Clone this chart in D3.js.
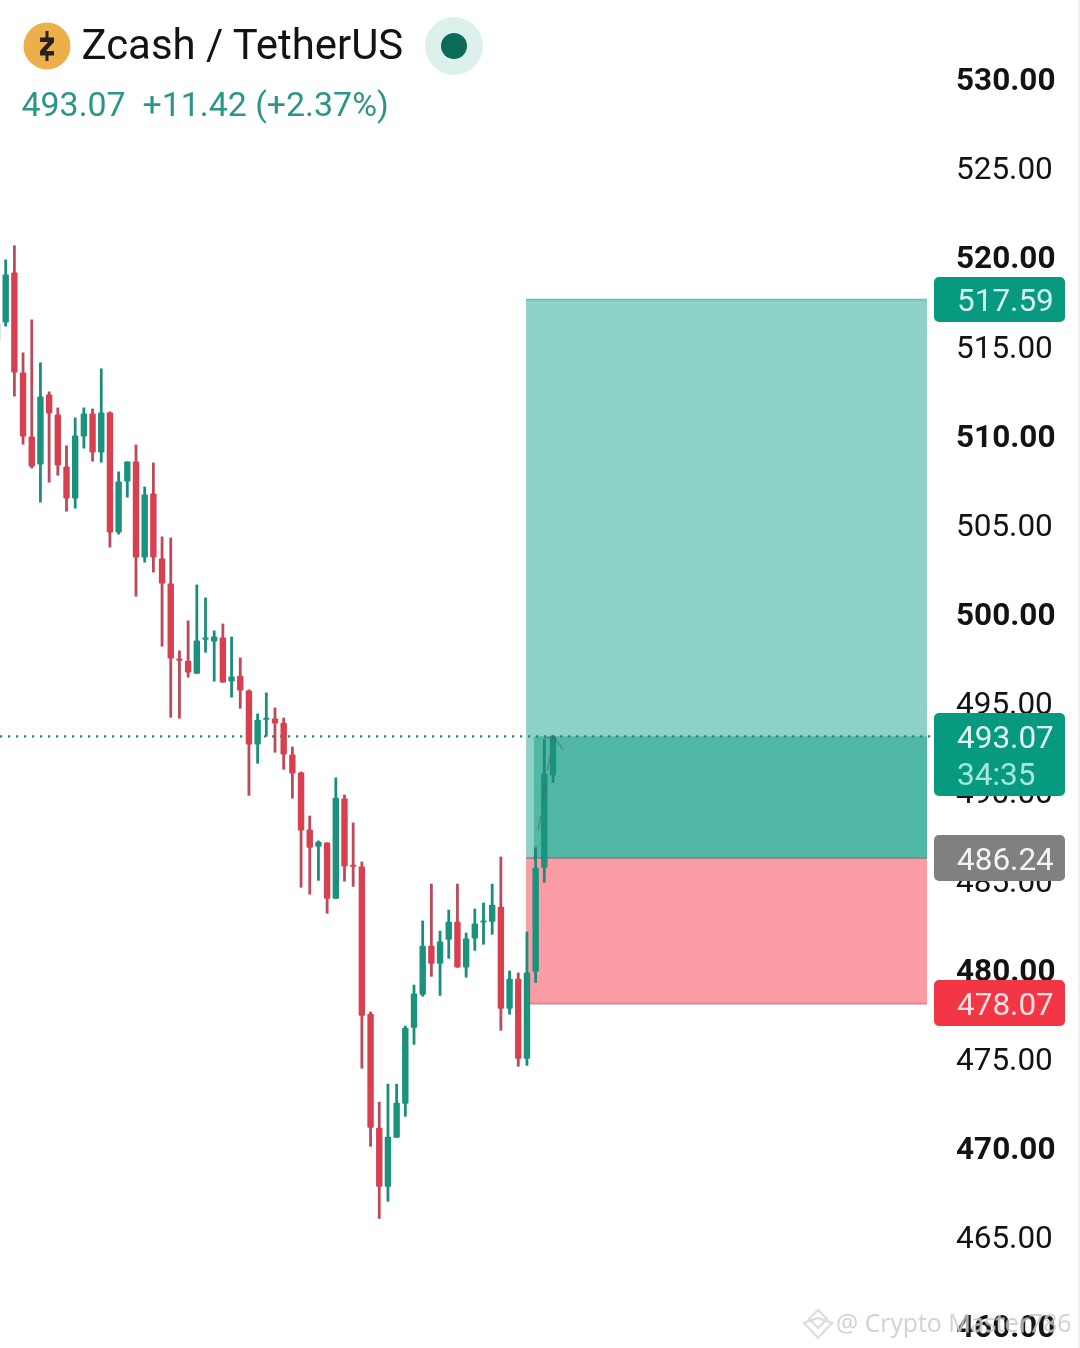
<!DOCTYPE html>
<html>
<head>
<meta charset="utf-8">
<script src="https://d3js.org/d3.v7.min.js"></script>
<style>
html,body{margin:0;padding:0;background:#fff;}
svg{display:block;filter:blur(0.35px);font-family:Roboto,sans-serif;}
</style>
</head>
<body>
<svg id="chart" width="1080" height="1348"></svg>
<script>
const opens  = [515.24,516.30,519.11,513.50,509.90,508.33,512.26,511.14,508.22,506.42,509.90,511.19,509.00,511.25,504.51,507.38,508.50,503.11,506.70,503.05,501.65,497.44,497.32,496.59,498.50,498.39,498.62,496.15,496.48,495.64,492.61,494.07,494.07,493.84,492.05,491.04,487.84,486.88,487.11,483.96,489.58,485.87,485.76,477.50,471.10,467.79,470.54,472.45,476.72,478.57,481.32,480.31,481.66,482.67,480.09,481.72,482.67,482.67,483.51,477.78,479.47,474.98,479.86,485.70,490.87];
const closes = [516.30,519.00,513.50,509.90,508.22,512.15,511.19,508.27,506.42,509.96,511.19,509.00,511.25,504.51,507.38,508.50,503.11,506.65,503.11,501.65,497.44,497.32,496.65,498.45,498.62,498.67,496.09,496.43,495.64,492.61,494.01,494.12,493.79,492.05,490.98,487.78,486.82,487.16,483.96,489.63,485.76,485.76,477.39,471.10,467.79,470.60,472.51,476.72,478.63,481.32,480.31,481.55,482.67,480.09,481.72,482.56,482.73,483.62,477.78,479.47,474.98,479.81,485.70,490.98,493.07];
const highs  = [516.47,519.84,520.63,514.62,516.47,514.06,512.43,511.53,509.40,510.97,511.53,511.47,513.72,511.31,507.94,508.50,509.45,507.09,508.44,504.29,504.23,497.89,499.57,501.59,500.86,499.01,499.40,498.67,497.49,495.70,494.35,495.53,494.69,494.12,492.50,491.09,488.62,487.22,487.11,490.76,489.80,488.23,486.04,477.62,472.56,473.57,473.57,476.83,479.13,482.73,484.80,482.16,483.34,484.80,482.05,483.40,483.74,484.80,486.32,479.92,479.81,482.11,486.82,492.89,493.11];
const lows   = [515.24,516.08,512.15,509.45,508.11,506.20,507.32,507.71,505.69,505.86,509.23,508.50,508.44,503.67,504.40,506.48,500.92,502.83,502.27,498.11,494.12,494.07,496.37,496.59,497.77,496.15,496.09,495.25,494.63,489.74,491.54,493.06,492.16,491.20,489.58,484.58,484.19,484.97,483.12,483.96,484.92,484.63,474.42,470.04,465.99,466.95,470.54,471.72,475.76,478.46,479.58,478.51,480.59,480.09,479.53,481.04,481.38,481.94,476.55,477.45,474.53,474.58,479.24,484.86,490.47];

const priceTicks = [530,525,520,515,510,505,500,495,490,485,480,475,470,465,460];
const boldTicks = [530,520,510,500,480,470,460];

const lastPrice = 493.07, targetPrice = 517.59, entryPrice = 486.24, stopPrice = 478.07;
const positionStart = 60.9, positionEnd = 107.05, fillStart = 61.8;

const arrowShaft = [[61.8,486.15],[64,493.11]];
const arrowLeft  = [[62.85,492.89],[64,493.11]];
const arrowRight = [[65.15,492.33],[64,493.11]];

const title = "Zcash / TetherUS";
const quote = "493.07  +11.42 (+2.37%)";
const countdown = "34:35";
const watermark = "@ Crypto Master786";

const GREEN="#089981", RED="#f83a4c";
const svg = d3.select("#chart");
const x = d3.scaleLinear().domain([0,64]).range([-3,553]);
const y = d3.scaleLinear().domain([460,530]).range([1325.5,78.5]);

// rules: right edge hairline
svg.append("rect").attr("x",1078).attr("y",0).attr("width",2).attr("height",1348).attr("fill","#f0f0f0");

// position tool
const boxes = svg.append("g");
function band(x0,x1,top,bottom,color,op){
  boxes.append("rect").attr("x",x(x0)).attr("width",x(x1)-x(x0))
    .attr("y",y(top)).attr("height",y(bottom)-y(top)).attr("fill",color).attr("fill-opacity",op);
}
band(positionStart,positionEnd,targetPrice,entryPrice,"#049a80",0.45);
band(positionStart,positionEnd,entryPrice,stopPrice,RED,0.5);
band(fillStart,positionEnd,lastPrice,entryPrice,GREEN,0.45);
function hline(p,color){
  boxes.append("line").attr("x1",x(positionStart)).attr("x2",x(positionEnd))
    .attr("y1",y(p)).attr("y2",y(p)).attr("stroke",color).attr("stroke-width",1.6);
}
hline(targetPrice,"#6dbfb1");
hline(entryPrice,"#8a7f80");
hline(stopPrice,"#d08a90");

// last price dotted line
svg.append("line").attr("x1",0).attr("x2",932).attr("y1",y(lastPrice)).attr("y2",y(lastPrice))
  .attr("stroke","#1a8a78").attr("stroke-width",2.2).attr("stroke-dasharray","2.2 5.8");

// candles
const idx = d3.range(opens.length);
const g = svg.append("g").selectAll("g").data(idx).join("g");
const up = i => closes[i] >= opens[i];
g.append("line")
  .attr("x1",i=>x(i)).attr("x2",i=>x(i))
  .attr("y1",i=>y(highs[i])).attr("y2",i=>y(lows[i]))
  .attr("stroke",i=>up(i)?"#1c8d7b":"#bb4a5a").attr("stroke-width",2.8);
g.append("rect")
  .attr("x",i=>x(i)-3.2).attr("width",6.4).attr("rx",1)
  .attr("y",i=>y(Math.max(opens[i],closes[i])))
  .attr("height",i=>Math.max(2,Math.abs(y(opens[i])-y(closes[i]))))
  .attr("fill",i=>up(i)?"#1a927e":"#d8404f");

// ghost arrow
const ln = d3.line().x(d=>x(d[0])).y(d=>y(d[1]));
[[arrowShaft,"14 16"],[arrowLeft,null],[arrowRight,null]].forEach(([pts,dash])=>{
  svg.append("path").attr("d",ln(pts)).attr("fill","none").attr("stroke","#555")
    .attr("stroke-opacity",0.35).attr("stroke-width",2).attr("stroke-dasharray",dash);
});

// price axis
const axis = d3.axisRight(y).tickValues(priceTicks).tickSize(0).tickPadding(0).tickFormat(d=>d.toFixed(2));
const ag = svg.append("g").attr("transform","translate(956,0)").call(axis);
ag.select(".domain").remove();
ag.selectAll("text").attr("font-family","Roboto,sans-serif").attr("font-size",31.5).attr("fill","#131313")
  .attr("font-weight",d=>boldTicks.includes(d)?700:400).attr("dy","0.36em");

// price labels
function label(p,y0,y1,fill,txt,color){
  svg.append("rect").attr("x",934).attr("y",y0).attr("width",131).attr("height",y1-y0).attr("rx",5).attr("fill",fill);
  svg.append("text").attr("x",957).attr("y",y(p)).attr("dy","0.37em").attr("font-size",31.5).attr("fill",color).text(txt);
}
label(targetPrice,277,322,"#089981",targetPrice.toFixed(2),"#d5f2ec");
label(lastPrice,713,796,"#089981",lastPrice.toFixed(2),"#e0f7f2");
svg.append("text").attr("x",957).attr("y",774).attr("dy","0.35em").attr("font-size",31.5).attr("fill","#a6e8da").text(countdown);
label(entryPrice,835,881,"#808080",entryPrice.toFixed(2),"#f4f4f4");
label(stopPrice,980,1026,"#f23645",stopPrice.toFixed(2),"#fbdfe2");

// header
svg.append("circle").attr("cx",47).attr("cy",46).attr("r",23.5).attr("fill","#ecb04a");
svg.append("path").attr("d","M40 37.5H54V42L46 51H54V55.5H40V51L48 42H40Z M45.5 31H48.5V37.5H45.5Z M45.5 55.5H48.5V61H45.5Z").attr("fill","#26231f");
svg.append("text").attr("x",81.5).attr("y",59).attr("font-size",41.9).attr("fill","#131313").text(title);
svg.append("text").attr("x",21.5).attr("y",116).attr("font-size",33.9).attr("fill","#2a9687").style("white-space","pre").text(quote);
svg.append("circle").attr("cx",454).attr("cy",46).attr("r",29).attr("fill","#dcf0ec");
svg.append("circle").attr("cx",454).attr("cy",46).attr("r",13).attr("fill","#0b6b58");

// watermark
const wm = svg.append("g").attr("opacity",0.85);
wm.append("path").attr("d","M818 1310L827 1319L818 1328L809 1319Z M818 1318L832 1323L818 1338L804 1323Z").attr("fill","none").attr("stroke","#d6d6d6").attr("stroke-width",2.2);
wm.append("text").attr("x",836).attr("y",1332).attr("font-family","'Open Sans',sans-serif").attr("font-size",24.8)
  .attr("fill","#c9c9c9").attr("stroke","#ffffff").attr("stroke-opacity",0.5).attr("stroke-width",1.5).attr("paint-order","stroke").text(watermark);
</script>
</body>
</html>
